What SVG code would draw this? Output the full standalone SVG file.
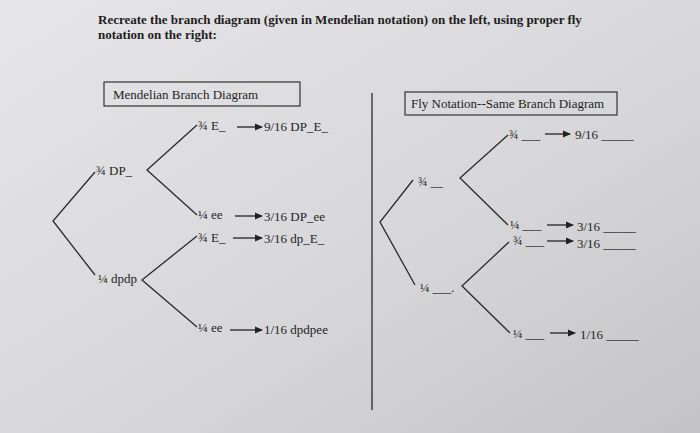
<svg xmlns="http://www.w3.org/2000/svg" width="700" height="433" viewBox="0 0 700 433">
<defs>
<linearGradient id="bg" x1="0" y1="0" x2="1" y2="1"><stop offset="0" stop-color="#e6e6e8"/><stop offset="0.6" stop-color="#d6d6d8"/><stop offset="1" stop-color="#c4c4c6"/></linearGradient>
<marker id="ah" markerWidth="8" markerHeight="8" refX="7" refY="4" orient="auto" markerUnits="userSpaceOnUse"><path d="M0,0.5 L8,4 L0,7.5 Z" fill="#222"/></marker>
<style>
text{font-family:"Liberation Serif",serif;fill:#1e1e1e;font-size:13px}
.t{font-size:13px;font-weight:bold}
.s{font-size:12.5px}
.l{stroke:#2a2a2a;stroke-width:1.3;fill:none}
.a{stroke:#222;stroke-width:1.3;marker-end:url(#ah)}
.bx{fill:none;stroke:#333;stroke-width:1.2}
</style>
</defs>
<rect width="700" height="433" fill="url(#bg)"/>
<text class="t" x="98" y="24">Recreate the branch diagram (given in Mendelian notation) on the left, using proper fly</text>
<text class="t" x="98" y="39">notation on the right:</text>
<g id="box-left"><rect class="bx" x="104" y="82" width="196" height="24"/><text x="113" y="99">Mendelian Branch Diagram</text></g>
<g id="box-right"><rect class="bx" x="405" y="92" width="212" height="23"/><text x="411" y="108">Fly Notation--Same Branch Diagram</text></g>
<g id="connectors">
<path class="l" d="M95,172 L53,221 L95,275"/>
<path class="l" d="M197,125 L147,170 L197,215"/>
<path class="l" d="M197,236 L142,280 L197,327"/>
<line class="a" x1="237" y1="127" x2="262" y2="127"/>
<line class="a" x1="235" y1="216" x2="262" y2="216"/>
<line class="a" x1="233" y1="238" x2="262" y2="238"/>
<line class="a" x1="230" y1="330" x2="262" y2="330"/>
<line class="l" x1="372" y1="93" x2="372" y2="410" stroke-width="1"/>
<path class="l" d="M413,180 L380,222 L415,285"/>
<path class="l" d="M508,135 L460,178 L508,225"/>
<path class="l" d="M509,242 L462,286 L510,333"/>
<line class="a" x1="545" y1="134" x2="570" y2="134"/>
<line class="a" x1="547" y1="225" x2="573" y2="225"/>
<line class="a" x1="547" y1="241" x2="573" y2="241"/>
<line class="a" x1="550" y1="333" x2="575" y2="333"/>
</g>
<g id="n-dp"><text x="96" y="175">¾ DP_</text></g>
<g id="n-dpdp"><text x="98" y="283">¼ dpdp</text></g>
<g id="n-e1"><text x="198" y="130">¾ E_</text><text x="264" y="131">9/16 DP_E_</text></g>
<g id="n-ee1"><text x="198" y="219">¼ ee</text><text x="264" y="221">3/16 DP_ee</text></g>
<g id="n-e2"><text x="198" y="242">¾ E_</text><text x="264" y="243">3/16 dp_E_</text></g>
<g id="n-ee2"><text x="198" y="332">¼ ee</text><text x="264" y="334">1/16 dpdpee</text></g>
<g id="r-1"><text class="s" x="418" y="186">¾ __</text></g>
<g id="r-2"><text class="s" x="420" y="292">¼ ___.</text></g>
<g id="r-3"><text class="s" x="509" y="139">¾ ___</text><text x="575" y="139">9/16 _____</text></g>
<g id="r-4"><text class="s" x="510" y="229">¼ ___</text><text x="577" y="231">3/16 _____</text></g>
<g id="r-5"><text class="s" x="513" y="245">¾ ___</text><text x="577" y="248">3/16 _____</text></g>
<g id="r-6"><text class="s" x="513" y="338">¼ ___</text><text x="580" y="339">1/16 _____</text></g>
</svg>
